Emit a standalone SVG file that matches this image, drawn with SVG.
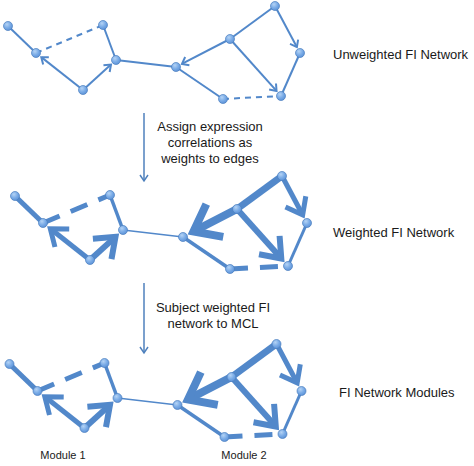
<svg xmlns="http://www.w3.org/2000/svg" width="474" height="466" viewBox="0 0 474 466">
<defs>
<radialGradient id="nodeGrad" cx="0.38" cy="0.32" r="0.75">
<stop offset="0" stop-color="#B4D3F5"/>
<stop offset="0.55" stop-color="#78AAE6"/>
<stop offset="1" stop-color="#5A90D6"/>
</radialGradient>
<marker id="chev" markerUnits="strokeWidth" orient="auto" overflow="visible" markerWidth="1" markerHeight="1" refX="0" refY="0">
<path d="M-2.8,-2.3 L0.2,0 L-2.8,2.3" fill="none" stroke="#5288CA" stroke-width="1" stroke-linejoin="miter"/>
</marker>
<marker id="down" markerUnits="userSpaceOnUse" orient="auto" overflow="visible" markerWidth="1" markerHeight="1" refX="0" refY="0">
<path d="M-6,-4 L0,0 L-6,4" fill="none" stroke="#4F81BD" stroke-width="1.5"/>
</marker>
</defs>
<style>
.e{stroke:#5288CA;fill:none;stroke-linecap:butt}
.a{marker-end:url(#chev)}
.n{fill:url(#nodeGrad);stroke:#4A7EBF;stroke-width:0.7}
.t{font-family:"Liberation Sans",Arial,sans-serif;fill:#1a1a1a}
.step{stroke:#4F81BD;stroke-width:1.5;fill:none;marker-end:url(#down)}
</style>
<rect width="474" height="466" fill="#ffffff"/>

<g id="connectors">
<g id="edges-unweighted" transform="translate(-7,-170)" stroke-width="2">
<line class="e" x1="15" y1="196" x2="43" y2="223"/>
<line class="e" x1="43" y1="223" x2="110" y2="195" stroke-dasharray="6 5"/>
<line class="e" x1="110" y1="195" x2="123" y2="230"/>
<line class="e a" x1="90" y1="260" x2="48.6" y2="227.4"/>
<line class="e a" x1="90" y1="260" x2="117.7" y2="234.8"/>
<line class="e" x1="123" y1="230" x2="183" y2="237"/>
<line class="e a" x1="237" y1="209" x2="189.3" y2="233.7"/>
<line class="e" x1="282" y1="176" x2="237" y2="209"/>
<line class="e a" x1="282" y1="176" x2="303.7" y2="216.7"/>
<line class="e a" x1="237" y1="209" x2="283.3" y2="260.7"/>
<line class="e" x1="307" y1="223" x2="288" y2="266"/>
<line class="e" x1="183" y1="237" x2="230" y2="269"/>
<line class="e" x1="230" y1="269" x2="288" y2="266" stroke-dasharray="6 5"/>
</g>
<g id="edges-weighted">
<line class="e" x1="15" y1="196" x2="43" y2="223" stroke-width="5"/>
<line class="e" x1="43" y1="223" x2="110" y2="195" stroke-width="5" stroke-dasharray="18 12"/>
<line class="e" x1="110" y1="195" x2="123" y2="230" stroke-width="3.5"/>
<line class="e a" x1="90" y1="260" x2="51.1" y2="229.3" stroke-width="5"/>
<line class="e a" x1="90" y1="260" x2="114.6" y2="237.6" stroke-width="6"/>
<line class="e" x1="123" y1="230" x2="183" y2="237" stroke-width="1.5"/>
<line class="e a" x1="237" y1="209" x2="194.9" y2="230.8" stroke-width="8"/>
<line class="e" x1="282" y1="176" x2="237" y2="209" stroke-width="7"/>
<line class="e a" x1="282" y1="176" x2="302.2" y2="214" stroke-width="5"/>
<line class="e a" x1="237" y1="209" x2="280.5" y2="257.6" stroke-width="6"/>
<line class="e" x1="307" y1="223" x2="288" y2="266" stroke-width="3"/>
<line class="e" x1="183" y1="237" x2="230" y2="269" stroke-width="3.5"/>
<line class="e" x1="230" y1="269" x2="288" y2="266" stroke-width="5" stroke-dasharray="18 12"/>
</g>
<g id="edges-modules" transform="translate(-5.5,168)">
<line class="e" x1="15" y1="196" x2="43" y2="223" stroke-width="5"/>
<line class="e" x1="43" y1="223" x2="110" y2="195" stroke-width="5" stroke-dasharray="18 12"/>
<line class="e" x1="110" y1="195" x2="123" y2="230" stroke-width="3.5"/>
<line class="e a" x1="90" y1="260" x2="51.1" y2="229.3" stroke-width="5"/>
<line class="e a" x1="90" y1="260" x2="114.6" y2="237.6" stroke-width="6"/>
<line class="e" x1="123" y1="230" x2="183" y2="237" stroke-width="1.5"/>
<line class="e a" x1="237" y1="209" x2="194.9" y2="230.8" stroke-width="8"/>
<line class="e" x1="282" y1="176" x2="237" y2="209" stroke-width="7"/>
<line class="e a" x1="282" y1="176" x2="302.2" y2="214" stroke-width="5"/>
<line class="e a" x1="237" y1="209" x2="280.5" y2="257.6" stroke-width="6"/>
<line class="e" x1="307" y1="223" x2="288" y2="266" stroke-width="3"/>
<line class="e" x1="183" y1="237" x2="230" y2="269" stroke-width="3.5"/>
<line class="e" x1="230" y1="269" x2="288" y2="266" stroke-width="5" stroke-dasharray="18 12"/>
</g>
<g id="steps">
<line class="step" x1="144" y1="113" x2="144" y2="181"/>
<line class="step" x1="144" y1="283" x2="144" y2="353"/>
</g>
</g>

<g id="nodes-unweighted" transform="translate(-7,-170)">
<g id="u-A"><circle class="n" cx="15" cy="196" r="4.5"/></g>
<g id="u-B"><circle class="n" cx="43" cy="223" r="4.5"/></g>
<g id="u-C"><circle class="n" cx="110" cy="195" r="4.5"/></g>
<g id="u-D"><circle class="n" cx="123" cy="230" r="4.5"/></g>
<g id="u-E"><circle class="n" cx="90" cy="260" r="4.5"/></g>
<g id="u-F"><circle class="n" cx="183" cy="237" r="4.5"/></g>
<g id="u-G"><circle class="n" cx="237" cy="209" r="4.5"/></g>
<g id="u-H"><circle class="n" cx="282" cy="176" r="4.5"/></g>
<g id="u-I"><circle class="n" cx="307" cy="223" r="4.5"/></g>
<g id="u-J"><circle class="n" cx="288" cy="266" r="4.5"/></g>
<g id="u-K"><circle class="n" cx="230" cy="269" r="4.5"/></g>
</g>
<g id="nodes-weighted">
<g id="w-A"><circle class="n" cx="15" cy="196" r="4.5"/></g>
<g id="w-B"><circle class="n" cx="43" cy="223" r="4.5"/></g>
<g id="w-C"><circle class="n" cx="110" cy="195" r="4.5"/></g>
<g id="w-D"><circle class="n" cx="123" cy="230" r="4.5"/></g>
<g id="w-E"><circle class="n" cx="90" cy="260" r="4.5"/></g>
<g id="w-F"><circle class="n" cx="183" cy="237" r="4.5"/></g>
<g id="w-G"><circle class="n" cx="237" cy="209" r="4.5"/></g>
<g id="w-H"><circle class="n" cx="282" cy="176" r="4.5"/></g>
<g id="w-I"><circle class="n" cx="307" cy="223" r="4.5"/></g>
<g id="w-J"><circle class="n" cx="288" cy="266" r="4.5"/></g>
<g id="w-K"><circle class="n" cx="230" cy="269" r="4.5"/></g>
</g>
<g id="nodes-modules" transform="translate(-5.5,168)">
<g id="m-A"><circle class="n" cx="15" cy="196" r="4.5"/></g>
<g id="m-B"><circle class="n" cx="43" cy="223" r="4.5"/></g>
<g id="m-C"><circle class="n" cx="110" cy="195" r="4.5"/></g>
<g id="m-D"><circle class="n" cx="123" cy="230" r="4.5"/></g>
<g id="m-E"><circle class="n" cx="90" cy="260" r="4.5"/></g>
<g id="m-F"><circle class="n" cx="183" cy="237" r="4.5"/></g>
<g id="m-G"><circle class="n" cx="237" cy="209" r="4.5"/></g>
<g id="m-H"><circle class="n" cx="282" cy="176" r="4.5"/></g>
<g id="m-I"><circle class="n" cx="307" cy="223" r="4.5"/></g>
<g id="m-J"><circle class="n" cx="288" cy="266" r="4.5"/></g>
<g id="m-K"><circle class="n" cx="230" cy="269" r="4.5"/></g>
</g>

<g id="labels">
<text class="t" x="333" y="59" font-size="13">Unweighted FI Network</text>
<text class="t" x="333" y="236.5" font-size="13">Weighted FI Network</text>
<text class="t" x="339" y="396.5" font-size="13">FI Network Modules</text>
<text class="t" x="210" y="131" font-size="13" text-anchor="middle">Assign expression</text>
<text class="t" x="210" y="147" font-size="13" text-anchor="middle">correlations as</text>
<text class="t" x="210" y="163" font-size="13" text-anchor="middle">weights to edges</text>
<text class="t" x="213" y="311.5" font-size="13" text-anchor="middle">Subject weighted FI</text>
<text class="t" x="213" y="327.5" font-size="13" text-anchor="middle">network to MCL</text>
<text class="t" x="63" y="459" font-size="11" text-anchor="middle">Module 1</text>
<text class="t" x="244" y="459" font-size="11" text-anchor="middle">Module 2</text>
</g>
</svg>
